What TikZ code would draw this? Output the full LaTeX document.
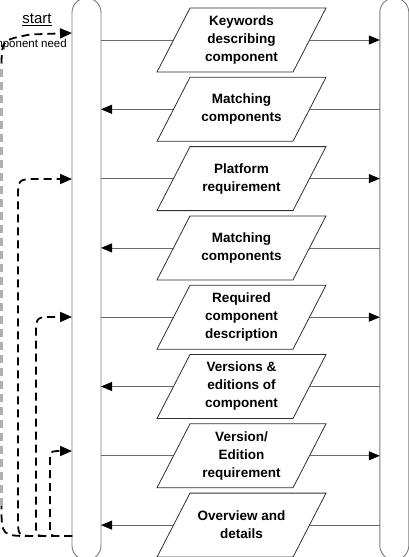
\documentclass[tikz,border=0pt]{standalone}
\usepackage{fontspec}
\setmainfont{Liberation Sans}
\usetikzlibrary{arrows.meta,calc}
\definecolor{lifegray}{HTML}{7A7A7A}
\definecolor{msggray}{HTML}{6A6A6A}
\definecolor{pgray}{HTML}{303030}
\definecolor{loopgraycol}{HTML}{B0B0B0}
\begin{document}
\begin{tikzpicture}[x=1pt,y=-1pt,
  lifeline/.style={draw=lifegray, line width=0.9pt, rounded corners=14.5pt, minimum width=29pt, minimum height=562pt, inner sep=0pt, outer sep=0pt},
  msg/.style={draw=msggray, line width=0.8pt, -{Triangle[length=11pt,width=9pt,fill=black,color=black]}},
  pshape/.style={draw=pgray, fill=white, line width=0.8pt},
  ptext/.style={font=\fontsize{13.5}{18}\selectfont\bfseries, align=center, inner sep=0pt},
  loopline/.style={draw=black, line width=1.8pt, dash pattern=on 8pt off 5pt},
  loopgray/.style={draw=loopgraycol, line width=2.6pt, dash pattern=on 8pt off 5pt},
  looparrow/.style={-{Triangle[length=12pt,width=10pt]}},
]
\useasboundingbox (0,0) rectangle (409,557);

% lifelines
\node[lifeline] (L) at (86.5,279) {};
\node[lifeline] (R) at (394.3,279) {};

% centres of the data boxes
\foreach \i in {1,...,8} {
  \coordinate (c\i) at (241.5,{40+(\i-1)*69.3});
}

% messages
\draw[msg] (L.east |- c1) -- (R.west |- c1);
\draw[msg] (R.west |- c2) -- (L.east |- c2);
\draw[msg] (L.east |- c3) -- (R.west |- c3);
\draw[msg] (R.west |- c4) -- (L.east |- c4);
\draw[msg] (L.east |- c5) -- (R.west |- c5);
\draw[msg] (R.west |- c6) -- (L.east |- c6);
\draw[msg] (L.east |- c7) -- (R.west |- c7);
\draw[msg] (R.west |- c8) -- (L.east |- c8);

% parallelograms
\foreach \i in {1,...,8} {
  \filldraw[pshape] ([shift={(-51.5,-32)}]c\i) -- ([shift={(84.5,-32)}]c\i)
     -- ([shift={(51.5,32)}]c\i) -- ([shift={(-84.5,32)}]c\i) -- cycle;
}
\node[ptext] (k1) at (c1) {Keywords\\describing\\component};
\node[ptext] (k2) at (c2) {Matching\\components};
\node[ptext] (k3) at (c3) {Platform\\requirement};
\node[ptext] (k4) at (c4) {Matching\\components};
\node[ptext] (k5) at (c5) {Required\\component\\description};
\node[ptext] (k6) at (c6) {Versions \&\\editions of\\component};
\node[ptext] (k7) at (c7) {Version/\\Edition\\requirement};
\node[ptext] (k8) at (c8) {Overview and\\details};

% labels
\node[font=\fontsize{15}{17}\selectfont, anchor=base, inner sep=0pt] (st) at (37,23.5) {\underline{start}};
\node[font=\fontsize{11.5}{13}\selectfont, anchor=base east, inner sep=0pt] (cn) at (67,47) {Component need};

% loop coordinates
\coordinate (bot) at (0,536);
\coordinate (t1) at (0,33);
\coordinate (t2) at (0,179);
\coordinate (t3) at (0,317);
\coordinate (t4) at (0,451);

% loop 1
\draw[loopline] (L.west |- bot) -- (32,536) .. controls (1.5,536) .. (1.5,506);
\draw[loopgray] (1.5,506) -- (1.5,63);
\draw[loopline, looparrow] (1.5,63) .. controls (2,40) .. (30,34.5) -- (L.west |- t1);
% loop 2
\draw[loopline, looparrow] (L.west |- bot) -- (36,536) .. controls (18,536) .. (18,518)
  -- (18,199) .. controls (18,179) .. (38,179) -- (L.west |- t2);
% loop 3
\draw[loopline, looparrow] (L.west |- bot) -- (48,536) .. controls (36,536) .. (36,524)
  -- (36,335) .. controls (36,317) .. (54,317) -- (L.west |- t3);
% loop 4
\draw[loopline, looparrow] (L.west |- bot) -- (59,536) .. controls (50,536) .. (50,527)
  -- (50,463) .. controls (50,451) .. (62,451) -- (L.west |- t4);
\end{tikzpicture}
\end{document}
